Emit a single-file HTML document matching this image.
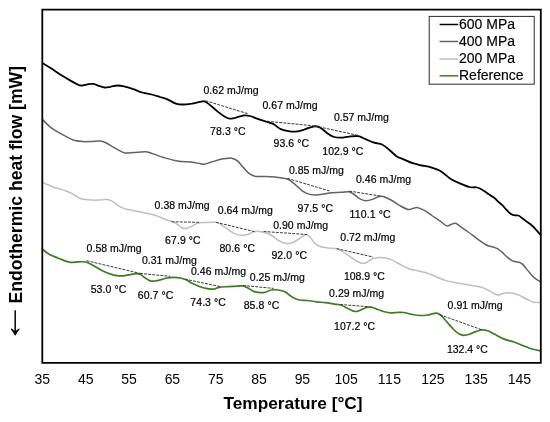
<!DOCTYPE html>
<html lang="en"><head><meta charset="utf-8"><title>DSC curves</title>
<style>html,body{margin:0;padding:0;background:#fff}body{width:550px;height:422px;overflow:hidden}svg{display:block}text{font-family:"Liberation Sans",Arial,sans-serif;fill:#000}.a{font-size:10.5px;stroke:#000;stroke-width:0.2px}.t{font-size:14px}.l{font-size:14px;stroke:#000;stroke-width:0.15px}.b{font-size:17.3px;font-weight:bold}</style></head><body>
<svg width="550" height="422" viewBox="0 0 550 422">
<rect width="550" height="422" fill="#fff"/>
<g fill="none" stroke-linejoin="round" stroke-linecap="butt">
<path d="M42.3 182.3C43.2 182.7 45.9 184.0 47.8 184.8C49.7 185.6 51.6 186.5 53.6 187.2C55.6 187.9 57.5 188.3 59.5 188.9C61.5 189.5 63.4 190.0 65.3 190.7C67.2 191.4 69.4 192.3 71.1 193.2C72.8 194.1 74.0 195.2 75.5 196.0C77.0 196.8 78.1 197.6 79.8 198.2C81.5 198.8 83.6 199.2 85.6 199.5C87.5 199.8 89.5 199.9 91.5 200.0C93.5 200.1 95.4 200.2 97.3 200.1C99.2 200.0 101.4 199.8 103.1 199.7C104.8 199.6 106.2 199.3 107.5 199.5C108.8 199.7 109.6 199.8 111.1 200.6C112.5 201.3 114.5 202.9 116.2 204.0C117.9 205.1 119.3 206.3 121.0 207.2C122.7 208.1 124.0 208.7 126.4 209.3C128.8 209.9 132.1 210.2 135.5 210.9C138.9 211.6 143.3 212.4 146.8 213.2C150.3 214.0 153.2 214.6 156.4 215.7C159.6 216.8 163.2 218.7 165.9 219.7C168.6 220.7 170.8 221.0 172.7 221.8C174.6 222.6 175.8 223.3 177.3 224.3C178.8 225.3 180.3 227.0 181.8 227.7C183.3 228.4 184.7 228.7 186.4 228.4C188.1 228.1 190.1 227.0 192.0 226.1C193.9 225.2 195.6 223.8 197.7 223.2C199.8 222.6 201.5 222.7 204.5 222.5C207.5 222.3 213.2 222.0 215.9 222.3C218.6 222.6 218.6 223.2 220.5 224.3C222.4 225.4 225.0 227.4 227.3 228.9C229.6 230.4 231.8 232.4 234.1 233.4C236.4 234.4 238.6 235.0 240.9 235.2C243.2 235.4 245.6 235.1 247.7 234.5C249.8 233.9 251.5 232.3 253.4 231.8C255.3 231.3 257.1 231.2 259.1 231.4C261.1 231.6 263.4 232.0 265.5 232.7C267.6 233.4 269.6 234.2 271.8 235.5C274.0 236.8 276.3 239.2 278.6 240.5C280.9 241.8 283.2 243.0 285.5 243.4C287.8 243.8 290.0 243.4 292.3 242.7C294.6 241.9 297.2 240.1 299.1 238.9C301.0 237.7 302.3 236.2 303.6 235.5C304.9 234.8 305.9 234.4 307.0 234.8C308.1 235.2 309.2 236.3 310.5 237.7C311.8 239.1 313.3 241.9 315.0 243.4C316.7 244.9 318.4 246.0 320.7 246.8C323.0 247.6 326.1 247.7 328.6 248.0C331.1 248.3 333.4 248.1 335.5 248.6C337.6 249.1 338.8 249.7 341.1 250.9C343.4 252.1 346.6 254.3 349.1 255.9C351.6 257.5 353.8 259.3 355.9 260.5C358.0 261.7 359.9 262.9 361.6 263.3C363.3 263.7 364.4 263.4 366.1 262.7C367.8 262.0 370.1 260.1 371.8 259.3C373.5 258.5 374.5 258.0 376.4 257.7C378.3 257.4 381.0 257.5 383.2 257.7C385.4 257.9 387.4 258.2 389.8 259.1C392.2 260.0 394.6 261.4 397.7 263.0C400.8 264.6 404.6 267.1 408.2 268.5C411.8 269.9 416.1 270.3 419.5 271.2C422.9 272.1 425.6 272.6 428.6 273.6C431.6 274.7 434.7 276.3 437.7 277.5C440.7 278.7 443.8 280.0 446.8 280.9C449.8 281.8 452.9 282.1 455.9 282.7C458.9 283.2 462.0 283.7 465.0 284.2C468.0 284.7 471.1 285.3 474.1 285.9C477.1 286.5 480.6 287.0 483.2 287.9C485.8 288.8 488.1 290.2 490.0 291.2C491.9 292.2 493.2 293.3 494.5 293.9C495.8 294.5 496.6 295.1 498.0 295.0C499.4 294.9 501.3 294.0 503.0 293.6C504.7 293.2 506.4 292.8 508.2 292.8C510.0 292.8 511.9 293.1 514.0 293.6C516.0 294.1 518.3 294.9 520.5 295.9C522.7 296.9 525.0 298.4 527.3 299.5C529.6 300.6 531.8 301.8 534.1 302.3C536.4 302.8 539.9 302.5 541.0 302.5" stroke="#bfbfbf" stroke-width="1.5"/>
<path d="M42.3 119.3C43.4 120.4 46.8 124.2 49.1 126.1C51.4 128.0 53.2 129.3 55.9 130.9C58.5 132.5 62.0 134.4 65.0 135.9C68.0 137.4 71.1 139.2 74.1 140.2C77.1 141.1 80.2 141.4 83.2 141.6C86.2 141.8 89.5 141.5 92.3 141.4C95.1 141.3 98.0 140.9 100.2 141.1C102.5 141.3 103.6 141.7 105.8 142.7C108.0 143.7 111.1 145.9 113.6 147.3C116.0 148.7 118.6 150.2 120.5 151.1C122.4 152.0 122.7 152.8 125.0 153.0C127.3 153.2 130.7 152.7 134.1 152.5C137.5 152.3 142.5 151.6 145.5 151.8C148.5 152.0 149.3 152.7 152.3 153.6C155.3 154.5 159.4 156.3 163.6 157.5C167.8 158.7 172.8 160.2 177.3 160.9C181.9 161.7 187.1 161.6 190.9 162.0C194.7 162.4 197.7 163.2 200.0 163.6C202.3 164.0 202.6 164.6 204.5 164.3C206.4 164.0 208.7 162.8 211.4 162.0C214.1 161.2 218.2 159.9 220.5 159.3C222.8 158.7 223.1 158.8 225.0 158.6C226.9 158.4 229.7 157.8 231.8 158.2C233.9 158.6 235.6 159.4 237.5 160.9C239.4 162.4 241.3 165.2 243.2 167.3C245.1 169.4 246.8 171.9 248.9 173.4C251.0 174.9 253.2 175.9 255.7 176.4C258.1 176.9 260.8 176.3 263.6 176.4C266.4 176.5 269.7 176.5 272.7 176.8C275.7 177.1 279.1 177.6 281.8 178.0C284.5 178.4 286.3 178.4 288.6 179.5C290.9 180.6 293.2 182.9 295.5 184.8C297.8 186.7 300.2 189.4 302.3 190.9C304.4 192.4 305.9 193.2 308.0 193.9C310.1 194.6 312.4 194.9 314.8 195.0C317.2 195.1 319.9 194.7 322.7 194.3C325.5 193.9 328.8 193.0 331.8 192.7C334.8 192.4 338.0 192.5 340.9 192.3C343.8 192.2 346.8 191.4 349.1 191.8C351.4 192.2 352.9 193.8 354.8 195.0C356.7 196.2 358.6 198.2 360.5 199.1C362.4 200.0 364.0 200.7 366.1 200.7C368.2 200.7 370.9 199.8 373.0 199.1C375.1 198.4 376.9 197.0 378.6 196.6C380.3 196.2 381.1 195.9 383.2 196.5C385.2 197.1 388.1 198.5 390.9 200.0C393.7 201.5 397.1 204.1 400.0 205.7C402.9 207.3 405.9 209.0 408.0 209.5C410.1 210.0 411.0 208.9 412.5 208.6C414.0 208.3 415.1 207.2 417.0 207.5C418.9 207.8 421.4 208.9 423.9 210.2C426.4 211.5 429.0 213.6 431.8 215.5C434.6 217.4 438.4 219.9 440.9 221.6C443.4 223.3 445.1 225.4 446.8 225.9C448.5 226.4 449.7 224.9 451.1 224.5C452.5 224.1 453.8 223.0 455.3 223.3C456.8 223.6 458.1 224.9 460.2 226.3C462.3 227.8 465.3 229.9 468.2 232.0C471.1 234.1 474.4 236.7 477.3 238.8C480.2 240.9 483.4 243.2 485.5 244.5C487.6 245.8 488.4 245.8 490.0 246.3C491.6 246.8 493.5 247.0 495.0 247.6C496.5 248.2 497.8 248.8 499.2 249.8C500.6 250.8 502.1 252.2 503.5 253.5C504.9 254.8 506.4 256.4 507.8 257.6C509.2 258.8 510.7 260.0 512.0 260.7C513.3 261.4 514.4 261.6 515.6 261.8C516.8 262.1 517.9 261.8 519.1 262.2C520.3 262.6 521.5 263.3 522.7 264.4C523.9 265.5 525.0 267.0 526.3 268.6C527.6 270.2 529.1 272.2 530.5 273.8C531.9 275.4 533.0 276.8 534.8 278.2C536.5 279.6 540.0 281.5 541.0 282.2" stroke="#626262" stroke-width="1.5"/>
<path d="M42.3 249.1C43.4 250.0 46.5 252.8 49.1 254.3C51.8 255.8 55.6 257.1 58.2 258.2C60.9 259.3 62.9 260.2 65.0 260.9C67.1 261.6 68.4 262.1 70.7 262.3C73.0 262.5 76.1 261.9 78.6 261.8C81.1 261.8 83.2 261.5 85.5 262.0C87.8 262.5 89.6 263.6 92.3 265.0C95.0 266.4 98.4 268.7 101.4 270.2C104.4 271.7 107.5 273.2 110.5 274.1C113.5 275.1 116.7 275.7 119.5 275.9C122.3 276.1 124.8 275.6 127.5 275.2C130.2 274.8 133.4 273.8 135.5 273.6C137.6 273.4 138.5 273.5 140.0 274.1C141.5 274.8 142.8 276.4 144.5 277.5C146.2 278.6 148.3 280.3 150.2 280.9C152.1 281.5 154.2 281.1 155.9 280.9C157.6 280.7 158.7 280.3 160.5 279.8C162.3 279.3 164.6 278.4 166.8 278.0C169.0 277.6 171.3 277.4 173.6 277.4C175.9 277.4 178.4 277.6 180.5 278.0C182.6 278.4 183.8 278.8 186.1 279.8C188.4 280.9 191.2 283.0 194.1 284.3C196.9 285.6 200.0 286.9 203.2 287.7C206.3 288.5 210.3 289.3 213.0 289.2C215.7 289.1 216.6 287.7 219.1 287.3C221.6 286.9 225.2 286.8 228.2 286.6C231.2 286.4 234.8 286.2 237.3 286.1C239.8 286.0 241.3 285.6 243.0 285.9C244.7 286.2 245.6 286.8 247.5 287.7C249.4 288.6 251.6 290.8 254.3 291.6C257.0 292.4 260.6 292.9 263.5 292.6C266.4 292.3 268.9 290.4 271.4 290.0C273.8 289.6 275.9 289.7 278.2 290.0C280.5 290.3 282.9 290.8 285.3 292.0C287.7 293.2 290.2 296.0 292.5 297.3C294.8 298.6 296.8 299.5 299.3 300.0C301.8 300.5 304.5 300.2 307.3 300.5C310.1 300.8 313.4 301.4 316.4 301.8C319.4 302.2 322.5 302.3 325.5 302.7C328.5 303.1 331.9 303.7 334.5 304.1C337.1 304.5 339.3 304.6 341.4 305.2C343.5 305.8 345.1 307.1 347.0 308.0C348.9 308.9 351.0 310.3 352.7 310.9C354.4 311.5 355.8 311.6 357.3 311.4C358.8 311.2 360.3 310.1 361.8 309.5C363.3 308.9 364.7 307.9 366.4 307.5C368.1 307.1 370.1 307.0 372.0 307.3C373.9 307.6 375.6 308.8 377.7 309.5C379.8 310.2 382.3 311.2 384.5 311.8C386.7 312.4 388.9 312.8 391.0 312.9C393.1 313.0 394.9 312.6 397.0 312.5C399.1 312.4 401.2 312.2 403.6 312.5C406.0 312.8 409.0 313.8 411.6 314.3C414.2 314.8 416.9 315.4 419.5 315.5C422.1 315.6 425.4 315.3 427.5 315.0C429.6 314.7 430.5 314.2 432.0 313.9C433.5 313.6 435.1 312.9 436.6 313.2C438.1 313.5 439.4 314.1 441.1 315.5C442.8 316.9 444.7 319.5 446.8 321.8C448.9 324.1 451.5 327.4 453.6 329.5C455.7 331.6 457.6 333.1 459.3 334.1C461.0 335.1 462.2 335.3 463.9 335.3C465.6 335.3 467.4 334.9 469.5 334.2C471.6 333.5 474.3 332.1 476.4 331.4C478.5 330.7 480.1 330.0 482.0 329.9C483.9 329.8 485.6 330.1 487.7 330.8C489.8 331.5 491.9 332.8 494.5 334.1C497.1 335.5 500.2 337.5 503.6 338.9C507.0 340.3 511.4 341.1 514.8 342.3C518.2 343.5 521.1 344.9 524.0 346.0C526.9 347.1 529.2 348.2 532.0 349.0C534.8 349.8 539.5 350.7 541.0 351.0" stroke="#3d7d22" stroke-width="1.7"/>
<path d="M42.3 63.0C43.8 63.9 48.0 66.4 51.4 68.6C54.8 70.8 59.3 74.0 62.7 76.1C66.1 78.2 69.2 79.9 71.8 81.4C74.4 82.9 76.9 84.3 78.6 85.0C80.3 85.7 80.5 85.6 82.0 85.5C83.5 85.4 85.8 84.6 87.7 84.3C89.6 84.0 91.5 83.6 93.4 83.9C95.3 84.2 97.2 85.3 99.1 85.9C101.0 86.5 102.9 87.3 104.8 87.5C106.7 87.7 108.4 87.1 110.5 86.8C112.6 86.5 115.0 85.6 117.3 85.5C119.6 85.4 121.4 85.8 124.1 86.4C126.8 87.0 130.2 88.1 133.2 89.1C136.2 90.1 138.9 91.5 142.3 92.5C145.7 93.5 150.7 94.2 153.6 95.0C156.5 95.8 157.8 96.3 160.0 97.0C162.2 97.7 164.2 98.0 166.8 99.1C169.5 100.2 173.2 102.7 175.9 103.6C178.6 104.5 180.0 104.5 182.7 104.5C185.3 104.5 189.0 104.0 191.8 103.6C194.7 103.1 197.7 102.2 199.8 101.8C201.9 101.4 202.8 101.0 204.3 101.4C205.8 101.8 206.8 102.5 208.9 104.1C211.0 105.7 214.2 108.8 216.8 110.9C219.4 113.0 222.4 115.3 224.5 116.6C226.6 117.9 227.6 118.5 229.5 118.7C231.4 118.9 233.6 118.1 236.0 117.6C238.4 117.0 241.8 115.7 244.1 115.4C246.4 115.1 247.7 115.4 250.0 116.0C252.3 116.6 254.9 117.9 257.7 118.9C260.5 119.9 264.1 120.9 266.8 121.8C269.5 122.7 271.3 122.9 273.6 124.1C275.9 125.3 278.0 127.9 280.7 129.1C283.4 130.3 287.0 131.0 289.8 131.4C292.6 131.8 295.2 131.7 297.7 131.4C300.1 131.1 302.4 130.2 304.5 129.5C306.6 128.8 308.5 127.9 310.2 127.4C311.9 126.9 313.1 126.4 314.5 126.3C315.9 126.2 317.2 126.3 318.5 126.8C319.8 127.3 320.9 128.0 322.5 129.2C324.1 130.4 326.5 132.8 328.4 134.1C330.3 135.4 332.0 136.4 334.1 137.0C336.2 137.6 338.4 137.8 340.9 137.7C343.4 137.6 346.2 136.9 349.1 136.6C352.0 136.3 355.6 135.7 358.2 136.1C360.8 136.5 362.4 137.8 365.0 138.9C367.6 140.0 371.3 141.8 374.1 142.7C376.9 143.6 379.5 143.4 382.0 144.5C384.5 145.6 386.4 147.5 388.9 149.5C391.4 151.5 394.4 154.8 396.8 156.4C399.2 158.0 401.0 158.2 403.6 159.3C406.2 160.4 409.7 162.2 412.7 163.2C415.7 164.2 418.8 164.8 421.8 165.5C424.8 166.2 427.9 166.4 430.9 167.3C433.9 168.2 436.8 168.8 440.0 170.7C443.2 172.5 446.8 176.3 450.0 178.4C453.2 180.5 455.9 181.6 459.1 183.0C462.3 184.4 466.3 186.2 469.3 187.0C472.3 187.8 474.8 186.8 477.3 187.5C479.9 188.2 482.6 190.1 484.6 191.3C486.6 192.5 487.7 193.5 489.3 194.6C490.9 195.7 492.7 196.6 494.2 197.8C495.7 199.0 497.1 200.6 498.5 201.9C499.9 203.2 501.5 204.4 502.8 205.7C504.1 207.0 505.1 208.4 506.3 209.7C507.5 211.0 508.8 212.4 509.9 213.3C511.0 214.2 511.8 214.6 512.7 214.9C513.7 215.2 514.7 215.2 515.6 215.3C516.5 215.4 517.5 215.2 518.4 215.5C519.3 215.8 520.1 216.6 521.3 217.4C522.5 218.2 524.0 219.4 525.5 220.6C527.0 221.8 529.0 223.0 530.5 224.3C532.0 225.6 533.0 226.5 534.8 228.4C536.5 230.3 540.0 234.3 541.0 235.5" stroke="#000" stroke-width="1.8"/>
</g>
<g stroke="#383838" stroke-width="1.0" stroke-dasharray="2.9 1.2" fill="none">
<line x1="205.5" y1="100.7" x2="247.5" y2="113.6"/>
<line x1="267.0" y1="121.2" x2="315.0" y2="126.0"/>
<line x1="315.0" y1="126.0" x2="359.0" y2="135.6"/>
<line x1="287.5" y1="178.4" x2="329.5" y2="190.9"/>
<line x1="349.1" y1="191.1" x2="380.9" y2="196.1"/>
<line x1="171.6" y1="221.8" x2="198.9" y2="222.3"/>
<line x1="215.9" y1="222.3" x2="254.5" y2="231.6"/>
<line x1="263.6" y1="231.5" x2="307.0" y2="234.5"/>
<line x1="336.6" y1="248.6" x2="373.0" y2="257.0"/>
<line x1="86.6" y1="260.7" x2="140.0" y2="273.4"/>
<line x1="140.0" y1="273.4" x2="170.2" y2="276.4"/>
<line x1="185.0" y1="279.1" x2="220.2" y2="286.6"/>
<line x1="243.0" y1="285.5" x2="273.6" y2="288.4"/>
<line x1="340.2" y1="304.5" x2="369.8" y2="306.8"/>
<line x1="440.0" y1="314.8" x2="481.0" y2="329.5"/>
</g>
<path d="M42.3 9.6H540.8V362.8H42.3Z" fill="none" stroke="#000" stroke-width="1.8"/>
<rect x="429.2" y="16.4" width="105.00000000000006" height="67.80000000000001" fill="#fff" stroke="#2b2b2b" stroke-width="1.0"/>
<line x1="439.6" y1="24.5" x2="458.2" y2="24.5" stroke="#000" stroke-width="1.5"/>
<text class="l" x="459.0" y="29.3" textLength="56">600 MPa</text>
<line x1="439.6" y1="41.5" x2="458.2" y2="41.5" stroke="#626262" stroke-width="1.5"/>
<text class="l" x="459.0" y="46.3" textLength="56">400 MPa</text>
<line x1="439.6" y1="59.0" x2="458.2" y2="59.0" stroke="#bfbfbf" stroke-width="1.5"/>
<text class="l" x="459.0" y="63.4" textLength="56">200 MPa</text>
<line x1="439.6" y1="75.8" x2="458.2" y2="75.8" stroke="#3d7d22" stroke-width="1.5"/>
<text class="l" x="459.0" y="80.4" textLength="64.6">Reference</text>
<text class="a" x="203.5" y="94.1" textLength="55">0.62 mJ/mg</text>
<text class="a" x="262.5" y="108.8" textLength="55">0.67 mJ/mg</text>
<text class="a" x="333.9" y="120.7" textLength="55">0.57 mJ/mg</text>
<text class="a" x="210.1" y="134.9" textLength="35.6">78.3 °C</text>
<text class="a" x="273.5" y="147.3" textLength="35.6">93.6 °C</text>
<text class="a" x="322.3" y="155.0" textLength="41.0">102.9 °C</text>
<text class="a" x="288.9" y="174.4" textLength="55">0.85 mJ/mg</text>
<text class="a" x="356.0" y="183.2" textLength="55">0.46 mJ/mg</text>
<text class="a" x="297.5" y="212.0" textLength="35.6">97.5 °C</text>
<text class="a" x="349.6" y="217.5" textLength="41.0">110.1 °C</text>
<text class="a" x="154.6" y="208.7" textLength="55">0.38 mJ/mg</text>
<text class="a" x="217.8" y="213.9" textLength="55">0.64 mJ/mg</text>
<text class="a" x="273.2" y="228.5" textLength="55">0.90 mJ/mg</text>
<text class="a" x="340.3" y="241.1" textLength="55">0.72 mJ/mg</text>
<text class="a" x="165.1" y="244.1" textLength="35.6">67.9 °C</text>
<text class="a" x="219.4" y="251.6" textLength="35.6">80.6 °C</text>
<text class="a" x="271.4" y="259.3" textLength="35.6">92.0 °C</text>
<text class="a" x="343.9" y="280.3" textLength="41.0">108.9 °C</text>
<text class="a" x="86.6" y="251.5" textLength="55">0.58 mJ/mg</text>
<text class="a" x="141.9" y="264.4" textLength="55">0.31 mJ/mg</text>
<text class="a" x="191.0" y="275.3" textLength="55">0.46 mJ/mg</text>
<text class="a" x="249.8" y="280.7" textLength="55">0.25 mJ/mg</text>
<text class="a" x="329.1" y="297.1" textLength="55">0.29 mJ/mg</text>
<text class="a" x="447.6" y="308.9" textLength="55">0.91 mJ/mg</text>
<text class="a" x="90.7" y="293.1" textLength="35.6">53.0 °C</text>
<text class="a" x="137.8" y="299.1" textLength="35.6">60.7 °C</text>
<text class="a" x="190.3" y="306.4" textLength="35.6">74.3 °C</text>
<text class="a" x="243.7" y="309.4" textLength="35.6">85.8 °C</text>
<text class="a" x="334.1" y="329.7" textLength="41.0">107.2 °C</text>
<text class="a" x="446.9" y="352.9" textLength="41.0">132.4 °C</text>
<text class="t" text-anchor="middle" x="42.3" y="383.6" textLength="15.5">35</text>
<text class="t" text-anchor="middle" x="85.7" y="383.6" textLength="15.5">45</text>
<text class="t" text-anchor="middle" x="129.0" y="383.6" textLength="15.5">55</text>
<text class="t" text-anchor="middle" x="172.4" y="383.6" textLength="15.5">65</text>
<text class="t" text-anchor="middle" x="215.7" y="383.6" textLength="15.5">75</text>
<text class="t" text-anchor="middle" x="259.1" y="383.6" textLength="15.5">85</text>
<text class="t" text-anchor="middle" x="302.4" y="383.6" textLength="15.5">95</text>
<text class="t" text-anchor="middle" x="346.1" y="383.6" textLength="23.3">105</text>
<text class="t" text-anchor="middle" x="389.4" y="383.6" textLength="23.3">115</text>
<text class="t" text-anchor="middle" x="432.8" y="383.6" textLength="23.3">125</text>
<text class="t" text-anchor="middle" x="476.1" y="383.6" textLength="23.3">135</text>
<text class="t" text-anchor="middle" x="519.4" y="383.6" textLength="23.3">145</text>
<text class="b" text-anchor="middle" x="293.0" y="409.2">Temperature [°C]</text>
<text class="b" style="font-size:17.6px" transform="translate(21.9 303.5) rotate(-90)">Endothermic heat flow [mW]</text>
<text transform="translate(20.6 343.9) rotate(-90) scale(1.19 1)" style="font-family:'Liberation Sans',sans-serif;font-size:36px;stroke:none">←</text>
</svg></body></html>
